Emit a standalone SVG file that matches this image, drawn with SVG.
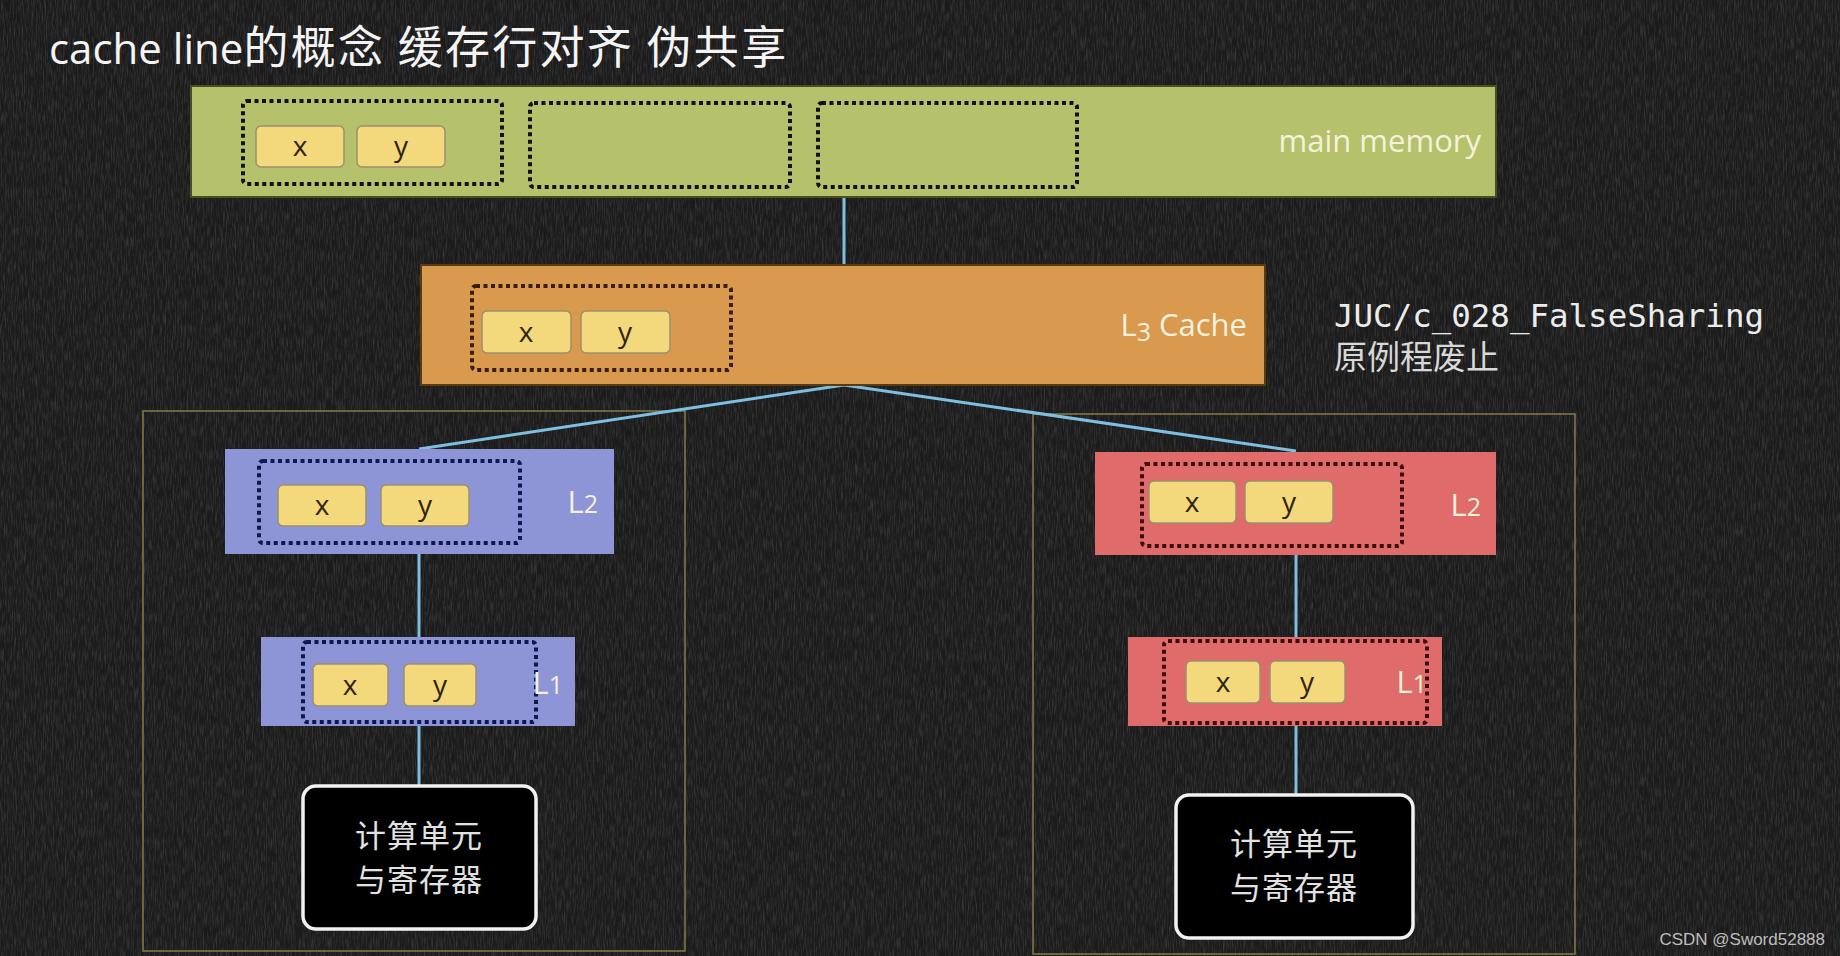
<svg xmlns="http://www.w3.org/2000/svg" width="1840" height="956" viewBox="0 0 1840 956">
<defs>
<filter id="chalk" x="0" y="0" width="100%" height="100%">
<feTurbulence type="fractalNoise" baseFrequency="0.9 0.08" numOctaves="3" seed="4" result="n"/>
<feColorMatrix in="n" type="matrix" values="0 0 0 0 1  0 0 0 0 1  0 0 0 0 1  0 0 0 0.55 -0.22"/>
</filter>
<style>
.bg{fill:#1b1b1b}
.cell{fill:#f4d97c;stroke:#9a9070;stroke-width:1.5}
.cl{font-family:"Open Sans","Liberation Sans",sans-serif;font-size:28px;fill:#2e2410;text-anchor:middle}
.lvl{font-family:"Open Sans","Liberation Sans",sans-serif;fill:#f4f1dc;text-anchor:end}
.dotk{fill:none;stroke:#111;stroke-width:4;stroke-dasharray:4 3.5}
.dotb{fill:none;stroke:#3a1c05;stroke-width:4;stroke-dasharray:4 3.5}
.dotn{fill:none;stroke:#0e1a4e;stroke-width:4;stroke-dasharray:4 3.5}
.dotr{fill:none;stroke:#3c0d0d;stroke-width:4;stroke-dasharray:4 3.5}
.con{stroke:#7dbfe0;stroke-width:3;fill:none}
.frame{fill:none;stroke:#857c45;stroke-width:1.5}
.cu{fill:#000;stroke:#f2f2f2;stroke-width:3.5}
.cut{font-family:"Noto Sans CJK SC",sans-serif;font-size:31px;fill:#e2e2e2;text-anchor:middle;letter-spacing:1px}
</style>
</defs>
<rect class="bg" x="0" y="0" width="1840" height="956"/>
<rect x="0" y="0" width="1840" height="956" filter="url(#chalk)" opacity="0.5"/>

<text x="49" y="64" font-family="'Open Sans','Noto Sans CJK SC',sans-serif" font-size="42" fill="#f4f4f4">cache line<tspan font-family="'Noto Sans CJK SC',sans-serif" font-size="45" letter-spacing="2.3">的概念 缓存行对齐 伪共享</tspan></text>

<g id="frames">
<rect class="frame" x="143" y="411" width="542" height="540"/>
<rect class="frame" x="1033" y="414" width="542" height="540"/>
</g>

<g id="connectors">
<line class="con" x1="844" y1="197" x2="844" y2="266"/>
<polyline class="con" points="419,449 844,385 1296,451"/>
<line class="con" x1="419" y1="554" x2="419" y2="637"/>
<line class="con" x1="419" y1="726" x2="419" y2="786"/>
<line class="con" x1="1296" y1="555" x2="1296" y2="637"/>
<line class="con" x1="1296" y1="726" x2="1296" y2="795"/>
</g>

<g id="main-memory">
<rect x="191" y="86" width="1305" height="111" fill="#b6c16b" stroke="#4a4e20" stroke-width="2"/>
<rect class="dotk" x="243" y="101" width="259" height="83" rx="4"/>
<rect class="dotk" x="530" y="103" width="260" height="84" rx="4"/>
<rect class="dotk" x="818" y="103" width="259" height="84" rx="4"/>
<rect class="cell" x="256" y="126" width="88" height="41" rx="5"/>
<rect class="cell" x="357" y="126" width="88" height="41" rx="5"/>
<text class="cl" x="300" y="156">x</text>
<text class="cl" x="401" y="156">y</text>
<text class="lvl" x="1481" y="152" font-size="31">main memory</text>
</g>

<g id="l3-cache">
<rect x="421" y="265" width="844" height="120" fill="#d99a4f" stroke="#5a3a10" stroke-width="2"/>
<rect class="dotb" x="472" y="286" width="259" height="84" rx="4"/>
<rect class="cell" x="482" y="311" width="89" height="42" rx="5"/>
<rect class="cell" x="581" y="311" width="89" height="42" rx="5"/>
<text class="cl" x="526" y="342">x</text>
<text class="cl" x="625" y="342">y</text>
<text class="lvl" x="1247" y="336" font-size="31">L<tspan font-size="25" dy="5">3</tspan><tspan dy="-5"> Cache</tspan></text>
</g>

<g id="note">
<text x="1334" y="327" font-family="'DejaVu Sans Mono','Liberation Mono',monospace" font-size="32" fill="#ececec" textLength="430" lengthAdjust="spacingAndGlyphs">JUC/c_028_FalseSharing</text>
<text x="1334" y="369" font-family="'Noto Sans CJK SC',sans-serif" font-size="33" fill="#d8d8d8">原例程废止</text>
</g>

<g id="l2-left">
<rect x="225" y="449" width="389" height="105" fill="#8e95d6"/>
<rect class="dotn" x="259" y="461" width="261" height="82" rx="4"/>
<rect class="cell" x="278" y="485" width="88" height="41" rx="5"/>
<rect class="cell" x="381" y="485" width="88" height="41" rx="5"/>
<text class="cl" x="322" y="515">x</text>
<text class="cl" x="425" y="515">y</text>
<text class="lvl" x="598" y="513" font-size="31">L<tspan font-size="25">2</tspan></text>
</g>

<g id="l1-left">
<rect x="261" y="637" width="314" height="89" fill="#8e95d6"/>
<rect class="dotn" x="303" y="642" width="233" height="80" rx="4"/>
<rect class="cell" x="313" y="664" width="75" height="42" rx="5"/>
<rect class="cell" x="404" y="664" width="72" height="42" rx="5"/>
<text class="cl" x="350" y="695">x</text>
<text class="cl" x="440" y="695">y</text>
<text class="lvl" x="563" y="694" font-size="31">L<tspan font-size="25">1</tspan></text>
</g>

<g id="compute-left">
<rect class="cu" x="303" y="786" width="233" height="143" rx="13"/>
<text class="cut" x="419" y="847">计算单元</text>
<text class="cut" x="419" y="891">与寄存器</text>
</g>

<g id="l2-right">
<rect x="1095" y="452" width="401" height="103" fill="#e06b6b"/>
<rect class="dotr" x="1142" y="464" width="260" height="82" rx="4"/>
<rect class="cell" x="1149" y="481" width="87" height="42" rx="5"/>
<rect class="cell" x="1245" y="481" width="88" height="42" rx="5"/>
<text class="cl" x="1192" y="512">x</text>
<text class="cl" x="1289" y="512">y</text>
<text class="lvl" x="1481" y="516" font-size="31">L<tspan font-size="25">2</tspan></text>
</g>

<g id="l1-right">
<rect x="1128" y="637" width="314" height="89" fill="#e06b6b"/>
<rect class="dotr" x="1164" y="641" width="263" height="82" rx="4"/>
<rect class="cell" x="1186" y="661" width="74" height="42" rx="5"/>
<rect class="cell" x="1270" y="661" width="75" height="42" rx="5"/>
<text class="cl" x="1223" y="692">x</text>
<text class="cl" x="1307" y="692">y</text>
<text class="lvl" x="1427" y="693" font-size="31">L<tspan font-size="25">1</tspan></text>
</g>

<g id="compute-right">
<rect class="cu" x="1176" y="795" width="237" height="143" rx="13"/>
<text class="cut" x="1294" y="855">计算单元</text>
<text class="cut" x="1294" y="899">与寄存器</text>
</g>

<text x="1825" y="945" font-family="'Liberation Sans',sans-serif" font-size="17" fill="#bdbdbd" text-anchor="end">CSDN @Sword52888</text>
</svg>
